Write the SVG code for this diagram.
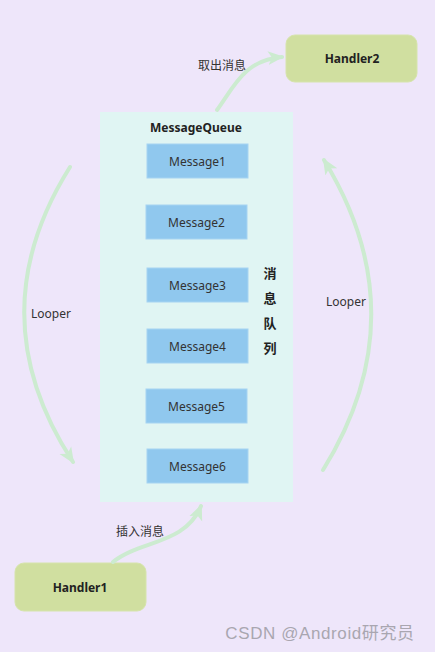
<svg xmlns="http://www.w3.org/2000/svg" width="435" height="652" viewBox="0 0 435 652">
<style>
.t{font-family:"Noto Sans","Noto Sans CJK SC",sans-serif;font-size:12px;fill:#333;text-anchor:middle;dominant-baseline:central}
.b{font-weight:bold;fill:#222}
.v{font-size:13px}
.msg{fill:#90C8EE;stroke:#A6D4F2;stroke-width:1}
.h{fill:#D0DFA0;stroke:#D6E4AC;stroke-width:1}
.c{fill:none;stroke:#CCEBD0;stroke-width:4;stroke-linecap:round}
</style>
<defs>
<marker id="ah" markerUnits="userSpaceOnUse" markerWidth="16" markerHeight="16" viewBox="0 0 16 16" refX="14" refY="8" orient="auto">
<path d="M0,1 L16,8 L0,15 L4,8 Z" fill="#CCEBD0"/>
</marker>
</defs>
<rect x="0" y="0" width="435" height="652" fill="#EEE6FA"/>
<g id="messagequeue">
<rect x="100" y="112" width="193" height="390" fill="#E0F5F3"/>
<text class="t b" x="196" y="127">MessageQueue</text>
<text class="t b v" x="270" y="273">消</text>
<text class="t b v" x="270" y="298">息</text>
<text class="t b v" x="270" y="323">队</text>
<text class="t b v" x="270" y="348">列</text>
</g>
<g id="message1"><rect class="msg" x="147" y="144" width="101" height="34"/><text class="t" x="197.5" y="161">Message1</text></g>
<g id="message2"><rect class="msg" x="146" y="205" width="101" height="34"/><text class="t" x="196.5" y="222">Message2</text></g>
<g id="message3"><rect class="msg" x="147" y="268" width="101" height="34"/><text class="t" x="197.5" y="285">Message3</text></g>
<g id="message4"><rect class="msg" x="147" y="329" width="101" height="34"/><text class="t" x="197.5" y="346">Message4</text></g>
<g id="message5"><rect class="msg" x="146" y="389" width="101" height="34"/><text class="t" x="196.5" y="406">Message5</text></g>
<g id="message6"><rect class="msg" x="147" y="449" width="101" height="34"/><text class="t" x="197.5" y="466">Message6</text></g>
<g id="handler2"><rect class="h" x="286" y="35" width="131" height="47" rx="9"/><text class="t b" x="352" y="58">Handler2</text></g>
<g id="handler1"><rect class="h" x="15" y="563" width="131" height="48" rx="9"/><text class="t b" x="80" y="587">Handler1</text></g>
<g id="connectors">
<path class="c" d="M217,110 C235,85 245,60 282,57" marker-end="url(#ah)"/>
<path class="c" d="M113,562 C140,540 185,545 201,506" marker-end="url(#ah)"/>
<path class="c" d="M70,167 Q-23,315 73,462" marker-end="url(#ah)"/>
<path class="c" d="M323,470 Q419,315 324,160" marker-end="url(#ah)"/>
<text class="t" x="222" y="65">取出消息</text>
<text class="t" x="140" y="531">插入消息</text>
<text class="t" x="51" y="313">Looper</text>
<text class="t" x="346" y="301">Looper</text>
</g>
<text x="320" y="633" style="font-family:'Liberation Sans','Noto Sans CJK SC',sans-serif;font-size:17px;letter-spacing:0.6px;fill:#A9A6B0;text-anchor:middle;dominant-baseline:central">CSDN @Android研究员</text>
</svg>
